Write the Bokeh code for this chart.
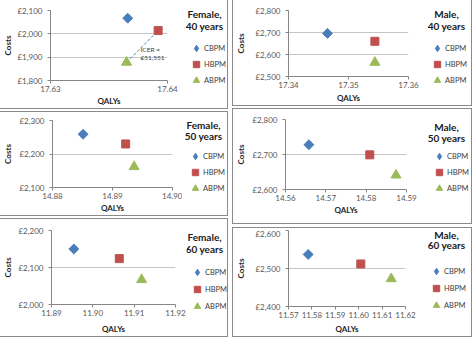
from math import pi
from bokeh.plotting import figure
from bokeh.layouts import row, column
from bokeh.models import (Label, Legend, LegendItem, FixedTicker, Plot,
                          Range1d, CustomJSTickFormatter, NumeralTickFormatter)
from bokeh.embed import file_html
from bokeh.resources import INLINE

# ---------------- data ----------------
title_line1 = ["Female,", "Male,", "Female,", "Male,", "Female,", "Male,"]
title_line2 = ["40 years", "40 years", "50 years", "50 years", "60 years", "60 years"]
series_names = ["CBPM", "HBPM", "ABPM"]

cbpm_qaly = [17.6366, 17.3465, 14.8851, 14.5658, 11.8954, 11.5784]
cbpm_cost = [2067, 2696, 2259, 2728, 2150, 2537]
hbpm_qaly = [17.6392, 17.3544, 14.8922, 14.5809, 11.9064, 11.6009]
hbpm_cost = [2014, 2660, 2230, 2699, 2124, 2512]
abpm_qaly = [17.6365, 17.3544, 14.8936, 14.5874, 11.9118, 11.6139]
abpm_cost = [1878, 2564, 2162, 2641, 2067, 2473]

x_ticks = [[17.63, 17.64], [17.34, 17.35, 17.36], [14.88, 14.89, 14.90],
           [14.56, 14.57, 14.58, 14.59], [11.89, 11.90, 11.91, 11.92],
           [11.57, 11.58, 11.59, 11.60, 11.61, 11.62]]
y_ticks = [[1800, 1900, 2000, 2100], [2500, 2600, 2700, 2800], [2100, 2200, 2300],
           [2600, 2700, 2800], [2000, 2100, 2200], [2400, 2500, 2600]]
icer_text = ["ICER =", "£51,551"]

# ---------------- layout geometry (pixels inside each bordered panel) ----------------
geom = [
    dict(W=227, H=108, pw=180, fl=45, fr=167, ft=10, fb=80, tx=24, ty=(13, 25), lx=16, ly=48, ld=16, qy=100, cx=8,
         border=("right", "bottom"), margin=(0, 0, 0, 0)),
    dict(W=238, H=105, pw=186, fl=51, fr=175, ft=10, fb=80, tx=27, ty=(13, 25), lx=18, ly=48, ld=16, qy=101, cx=9,
         border=("left", "right", "bottom"), margin=(0, 0, 0, 0)),
    dict(W=227, H=103, pw=182, fl=47, fr=172, ft=8, fb=77, tx=21, ty=(12, 23), lx=13, ly=44, ld=16, qy=97, cx=8,
         border=("top", "right", "bottom"), margin=(2, 0, 0, 0)),
    dict(W=238, H=114, pw=184, fl=48, fr=173, ft=10, fb=80, tx=29, ty=(17, 28), lx=22, ly=47, ld=16, qy=100, cx=9,
         border=("top", "left", "right", "bottom"), margin=(2, 0, 0, 0)),
    dict(W=227, H=117, pw=186, fl=47, fr=175, ft=11, fb=87, tx=18, ty=(17, 29), lx=11, ly=53, ld=17, qy=111, cx=9,
         border=("top", "right", "bottom"), margin=(2, 0, 0, 0)),
    dict(W=238, H=108, pw=184, fl=51, fr=172, ft=2, fb=78, tx=29, ty=(6, 16), lx=19, ly=43, ld=17, qy=100, cx=9,
         border=("top", "left", "right", "bottom"), margin=(3, 0, 0, 0)),
]

FONT = "Lato"
BLUE, RED, GREEN = "#4A7EBB", "#C0504D", "#9BBB59"
TICK_COLOR = "#595959"
AXIS_COLOR = "#868686"
GRID_COLOR = "#C6C6C6"
BORDER = "1px solid #8a8a8a"
MARKERS = [dict(marker="square", angle=pi / 4, size=7, fill_color=BLUE, line_color=BLUE),
           dict(marker="square", angle=0, size=8, fill_color=RED, line_color=RED),
           dict(marker="triangle", angle=0, size=10, fill_color=GREEN, line_color=GREEN)]
KEY_MARKERS = [dict(marker="diamond", fill_color=BLUE, line_color=BLUE),
               dict(marker="square", fill_color=RED, line_color=RED),
               dict(marker="triangle", fill_color=GREEN, line_color=GREEN)]
NOALIGN = {"frame_align": False} if "frame_align" in Plot.properties() else {}


def make_panel(i):
    g = geom[i]
    xt, yt = x_ticks[i], y_ticks[i]
    H, pw = g["H"], g["pw"]
    p = figure(width=pw, height=H,
               x_range=Range1d(xt[0], xt[-1] + 1e-9), y_range=Range1d(yt[0], yt[-1]),
               min_border_left=g["fl"], min_border_right=pw - g["fr"],
               min_border_top=g["ft"], min_border_bottom=H - g["fb"],
               toolbar_location=None, output_backend="svg", **NOALIGN)
    p.title.visible = False
    p.outline_line_color = None
    p.background_fill_color = "white"
    p.border_fill_color = "white"
    p.xgrid.visible = False
    p.ygrid.grid_line_color = GRID_COLOR

    p.xaxis.ticker = FixedTicker(ticks=xt)
    p.yaxis.ticker = FixedTicker(ticks=yt)
    p.xaxis.formatter = NumeralTickFormatter(format="0.00")
    p.yaxis.formatter = CustomJSTickFormatter(code="return '£' + Math.round(tick).toLocaleString('en-GB');")
    for ax in (p.xaxis, p.yaxis):
        ax.axis_line_color = AXIS_COLOR
        ax.major_tick_line_color = AXIS_COLOR
        ax.major_tick_out = 3
        ax.major_tick_in = 0
        ax.minor_tick_line_color = None
        ax.major_label_text_font = FONT
        ax.major_label_text_font_size = "8px"
        ax.major_label_text_color = TICK_COLOR
        ax.axis_label_text_font = FONT
        ax.axis_label_text_font_size = "8px"
        ax.axis_label_text_font_style = "bold"
        ax.axis_label_text_color = "#262626"
    p.xaxis.major_label_standoff = 2
    p.yaxis.major_label_standoff = 5
    p.xaxis.axis_label = "QALYs"
    p.yaxis.axis_label = "Costs"
    p.xaxis.axis_label_standoff = max(0, g["qy"] - g["fb"] - 19)
    p.yaxis.axis_label_standoff = max(0, g["fl"] - 36 - g["cx"])

    if i == 0:
        p.line([abpm_qaly[i], hbpm_qaly[i]], [abpm_cost[i], hbpm_cost[i]],
               line_color=BLUE, line_width=1, line_dash="3 2")
        for txt, yy in zip(icer_text, (49, 57)):
            p.add_layout(Label(x=135 - g["fl"], y=g["fb"] - yy, x_units="screen", y_units="screen",
                               text=txt, text_align="left", text_baseline="middle",
                               text_font=FONT, text_font_size="6.5px", text_color="#404040"))

    qs = [cbpm_qaly[i], hbpm_qaly[i], abpm_qaly[i]]
    cs = [cbpm_cost[i], hbpm_cost[i], abpm_cost[i]]
    for q, c, m in zip(qs, cs, MARKERS):
        p.scatter([q], [c], **m)

    # ---- side part: title + legend ----
    sw = g["W"] - pw
    s = figure(width=sw, height=H, x_range=Range1d(0, sw), y_range=Range1d(0, H),
               x_axis_type=None, y_axis_type=None, toolbar_location=None,
               output_backend="svg", min_border=0, min_border_left=0, min_border_right=0,
               min_border_top=0, min_border_bottom=0, **NOALIGN)
    s.title.visible = False
    s.outline_line_color = None
    s.background_fill_color = "white"
    s.border_fill_color = "white"
    s.grid.visible = False
    # legend renderers: same points, lying outside this side panel's ranges (not drawn)
    keys = [s.scatter([q], [c], **m) for q, c, m in zip(qs, cs, KEY_MARKERS)]

    gw, gh, ld = 16, 16, g["ld"]
    spacing = ld - gh
    top = g["ly"] - gh / 2
    bottom = top + 3 * gh + 2 * spacing
    legend = Legend(items=[LegendItem(label=n, renderers=[r]) for n, r in zip(series_names, keys)],
                    location=(g["lx"] - gw / 2, H - bottom),
                    glyph_width=gw, glyph_height=gh, label_height=gh, spacing=spacing,
                    padding=0, margin=0, label_standoff=-4,
                    label_text_font=FONT, label_text_font_size="7.5px",
                    label_text_color="#404040", border_line_color=None,
                    background_fill_alpha=0)
    s.add_layout(legend, "center")
    for txt, ty in zip((title_line1[i], title_line2[i]), g["ty"]):
        s.add_layout(Label(x=g["tx"], y=H - ty, text=txt, text_align="center", text_baseline="middle",
                           text_font=FONT, text_font_style="bold", text_font_size="10px",
                           text_color="#1a1a1a"))

    styles = {f"border-{side}": BORDER for side in g["border"]}
    return row(p, s, styles=styles, margin=g["margin"])


panels = [make_panel(i) for i in range(6)]
left = column(panels[0], panels[2], panels[4])
right = column(panels[1], panels[3], panels[5], margin=(0, 0, 0, 4))
layout = row(left, right)

open("out.html", "w").write(file_html(layout, INLINE))
